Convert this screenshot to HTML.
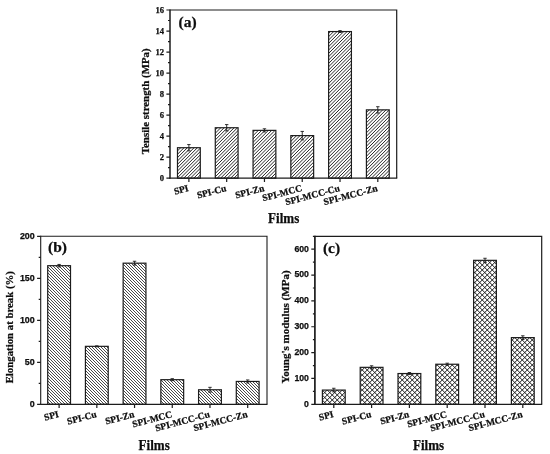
<!DOCTYPE html>
<html lang="en"><head><meta charset="utf-8"><title>Mechanical properties of SPI films</title>
<style>html,body{margin:0;padding:0;background:#fff}svg{display:block}text{fill:#0d0d0d;font-weight:bold;stroke:#0d0d0d;stroke-width:0.25px;paint-order:stroke}.se{font-family:'Liberation Serif', 'Times New Roman', serif}.sa{font-family:'Liberation Sans', Arial, sans-serif}</style></head><body>
<svg width="550" height="454" viewBox="0 0 550 454">
<rect width="550" height="454" fill="#fff"/>
<g id="chart-a">
<clipPath id="clip-a"><rect x="177.49" y="147.71" width="22.80" height="30.49"/><rect x="215.28" y="127.74" width="22.80" height="50.46"/><rect x="253.06" y="130.37" width="22.80" height="47.83"/><rect x="290.84" y="135.62" width="22.80" height="42.58"/><rect x="328.62" y="31.55" width="22.80" height="146.65"/><rect x="366.41" y="109.87" width="22.80" height="68.33"/></clipPath>
<path clip-path="url(#clip-a)" d="M2.80,178.20 L171.00,10.00 M6.15,178.20 L174.35,10.00 M9.50,178.20 L177.70,10.00 M12.85,178.20 L181.05,10.00 M16.20,178.20 L184.40,10.00 M19.55,178.20 L187.75,10.00 M22.90,178.20 L191.10,10.00 M26.25,178.20 L194.45,10.00 M29.60,178.20 L197.80,10.00 M32.95,178.20 L201.15,10.00 M36.30,178.20 L204.50,10.00 M39.65,178.20 L207.85,10.00 M43.00,178.20 L211.20,10.00 M46.35,178.20 L214.55,10.00 M49.70,178.20 L217.90,10.00 M53.05,178.20 L221.25,10.00 M56.40,178.20 L224.60,10.00 M59.75,178.20 L227.95,10.00 M63.10,178.20 L231.30,10.00 M66.45,178.20 L234.65,10.00 M69.80,178.20 L238.00,10.00 M73.15,178.20 L241.35,10.00 M76.50,178.20 L244.70,10.00 M79.85,178.20 L248.05,10.00 M83.20,178.20 L251.40,10.00 M86.55,178.20 L254.75,10.00 M89.90,178.20 L258.10,10.00 M93.25,178.20 L261.45,10.00 M96.60,178.20 L264.80,10.00 M99.95,178.20 L268.15,10.00 M103.30,178.20 L271.50,10.00 M106.65,178.20 L274.85,10.00 M110.00,178.20 L278.20,10.00 M113.35,178.20 L281.55,10.00 M116.70,178.20 L284.90,10.00 M120.05,178.20 L288.25,10.00 M123.40,178.20 L291.60,10.00 M126.75,178.20 L294.95,10.00 M130.10,178.20 L298.30,10.00 M133.45,178.20 L301.65,10.00 M136.80,178.20 L305.00,10.00 M140.15,178.20 L308.35,10.00 M143.50,178.20 L311.70,10.00 M146.85,178.20 L315.05,10.00 M150.20,178.20 L318.40,10.00 M153.55,178.20 L321.75,10.00 M156.90,178.20 L325.10,10.00 M160.25,178.20 L328.45,10.00 M163.60,178.20 L331.80,10.00 M166.95,178.20 L335.15,10.00 M170.30,178.20 L338.50,10.00 M173.65,178.20 L341.85,10.00 M177.00,178.20 L345.20,10.00 M180.35,178.20 L348.55,10.00 M183.70,178.20 L351.90,10.00 M187.05,178.20 L355.25,10.00 M190.40,178.20 L358.60,10.00 M193.75,178.20 L361.95,10.00 M197.10,178.20 L365.30,10.00 M200.45,178.20 L368.65,10.00 M203.80,178.20 L372.00,10.00 M207.15,178.20 L375.35,10.00 M210.50,178.20 L378.70,10.00 M213.85,178.20 L382.05,10.00 M217.20,178.20 L385.40,10.00 M220.55,178.20 L388.75,10.00 M223.90,178.20 L392.10,10.00 M227.25,178.20 L395.45,10.00 M230.60,178.20 L398.80,10.00 M233.95,178.20 L402.15,10.00 M237.30,178.20 L405.50,10.00 M240.65,178.20 L408.85,10.00 M244.00,178.20 L412.20,10.00 M247.35,178.20 L415.55,10.00 M250.70,178.20 L418.90,10.00 M254.05,178.20 L422.25,10.00 M257.40,178.20 L425.60,10.00 M260.75,178.20 L428.95,10.00 M264.10,178.20 L432.30,10.00 M267.45,178.20 L435.65,10.00 M270.80,178.20 L439.00,10.00 M274.15,178.20 L442.35,10.00 M277.50,178.20 L445.70,10.00 M280.85,178.20 L449.05,10.00 M284.20,178.20 L452.40,10.00 M287.55,178.20 L455.75,10.00 M290.90,178.20 L459.10,10.00 M294.25,178.20 L462.45,10.00 M297.60,178.20 L465.80,10.00 M300.95,178.20 L469.15,10.00 M304.30,178.20 L472.50,10.00 M307.65,178.20 L475.85,10.00 M311.00,178.20 L479.20,10.00 M314.35,178.20 L482.55,10.00 M317.70,178.20 L485.90,10.00 M321.05,178.20 L489.25,10.00 M324.40,178.20 L492.60,10.00 M327.75,178.20 L495.95,10.00 M331.10,178.20 L499.30,10.00 M334.45,178.20 L502.65,10.00 M337.80,178.20 L506.00,10.00 M341.15,178.20 L509.35,10.00 M344.50,178.20 L512.70,10.00 M347.85,178.20 L516.05,10.00 M351.20,178.20 L519.40,10.00 M354.55,178.20 L522.75,10.00 M357.90,178.20 L526.10,10.00 M361.25,178.20 L529.45,10.00 M364.60,178.20 L532.80,10.00 M367.95,178.20 L536.15,10.00 M371.30,178.20 L539.50,10.00 M374.65,178.20 L542.85,10.00 M378.00,178.20 L546.20,10.00 M381.35,178.20 L549.55,10.00 M384.70,178.20 L552.90,10.00 M388.05,178.20 L556.25,10.00 M391.40,178.20 L559.60,10.00 M394.75,178.20 L562.95,10.00" stroke="#1c1c1c" stroke-width="0.95" fill="none"/>
<rect x="177.49" y="147.71" width="22.80" height="30.49" fill="none" stroke="#1c1c1c" stroke-width="1.2"/>
<rect x="215.28" y="127.74" width="22.80" height="50.46" fill="none" stroke="#1c1c1c" stroke-width="1.2"/>
<rect x="253.06" y="130.37" width="22.80" height="47.83" fill="none" stroke="#1c1c1c" stroke-width="1.2"/>
<rect x="290.84" y="135.62" width="22.80" height="42.58" fill="none" stroke="#1c1c1c" stroke-width="1.2"/>
<rect x="328.62" y="31.55" width="22.80" height="146.65" fill="none" stroke="#1c1c1c" stroke-width="1.2"/>
<rect x="366.41" y="109.87" width="22.80" height="68.33" fill="none" stroke="#1c1c1c" stroke-width="1.2"/>
<path d="M188.89,144.56 V150.87 M187.19,144.56 H190.59 M187.19,150.87 H190.59 M226.68,124.59 V130.89 M224.98,124.59 H228.38 M224.98,130.89 H228.38 M264.46,128.79 V131.94 M262.76,128.79 H266.16 M262.76,131.94 H266.16 M302.24,131.42 V139.83 M300.54,131.42 H303.94 M300.54,139.83 H303.94 M340.02,30.60 V32.50 M338.32,30.60 H341.72 M338.32,32.50 H341.72 M377.81,106.71 V113.02 M376.11,106.71 H379.51 M376.11,113.02 H379.51" stroke="#1c1c1c" stroke-width="0.9" fill="none"/>
<path d="M170.00,10.00 H396.70 V178.20" stroke="#1c1c1c" stroke-width="1.20" fill="none"/>
<path d="M170.00,9.50 V178.70" stroke="#1c1c1c" stroke-width="1.50" fill="none"/>
<path d="M169.50,178.20 H397.20" stroke="#1c1c1c" stroke-width="1.30" fill="none"/>
<path d="M170.00,178.20 H166.40 M170.00,167.69 H168.00 M170.00,157.17 H166.40 M170.00,146.66 H168.00 M170.00,136.15 H166.40 M170.00,125.64 H168.00 M170.00,115.12 H166.40 M170.00,104.61 H168.00 M170.00,94.10 H166.40 M170.00,83.59 H168.00 M170.00,73.07 H166.40 M170.00,62.56 H168.00 M170.00,52.05 H166.40 M170.00,41.54 H168.00 M170.00,31.03 H166.40 M170.00,20.51 H168.00 M170.00,10.00 H166.40" stroke="#1c1c1c" stroke-width="1.2" fill="none"/>
<text class="se" x="164.00" y="181.10" font-size="8.6" text-anchor="end">0</text>
<text class="se" x="164.00" y="160.07" font-size="8.6" text-anchor="end">2</text>
<text class="se" x="164.00" y="139.05" font-size="8.6" text-anchor="end">4</text>
<text class="se" x="164.00" y="118.03" font-size="8.6" text-anchor="end">6</text>
<text class="se" x="164.00" y="97.00" font-size="8.6" text-anchor="end">8</text>
<text class="se" x="164.00" y="75.97" font-size="8.6" text-anchor="end">10</text>
<text class="se" x="164.00" y="54.95" font-size="8.6" text-anchor="end">12</text>
<text class="se" x="164.00" y="33.93" font-size="8.6" text-anchor="end">14</text>
<text class="se" x="164.00" y="12.90" font-size="8.6" text-anchor="end">16</text>
<path d="M188.89,178.20 V181.90 M226.68,178.20 V181.90 M264.46,178.20 V181.90 M302.24,178.20 V181.90 M340.02,178.20 V181.90 M377.81,178.20 V181.90" stroke="#1c1c1c" stroke-width="1.2" fill="none"/>
<text class="se" font-size="9.5" text-anchor="end" transform="translate(189.19,190.80) rotate(-15)">SPI</text>
<text class="se" font-size="9.5" text-anchor="end" transform="translate(226.98,190.80) rotate(-15)">SPI-Cu</text>
<text class="se" font-size="9.5" text-anchor="end" transform="translate(264.76,190.80) rotate(-15)">SPI-Zn</text>
<text class="se" font-size="9.5" text-anchor="end" transform="translate(302.54,190.80) rotate(-15)">SPI-MCC</text>
<text class="se" font-size="9.5" text-anchor="end" transform="translate(340.32,190.80) rotate(-15)">SPI-MCC-Cu</text>
<text class="se" font-size="9.5" text-anchor="end" transform="translate(378.11,190.80) rotate(-15)">SPI-MCC-Zn</text>
<text class="se" x="283.65" y="222.70" font-size="14.2" text-anchor="middle" textLength="31.2" lengthAdjust="spacingAndGlyphs">Films</text>
<text class="se" font-size="10.9" text-anchor="middle" transform="translate(149.40,101.30) rotate(-90)">Tensile strength (MPa)</text>
<text class="se" x="178.60" y="26.80" font-size="15.5">(a)</text>
</g>
<g id="chart-b">
<clipPath id="clip-b"><rect x="47.71" y="265.70" width="22.80" height="138.60"/><rect x="85.42" y="346.34" width="22.80" height="57.96"/><rect x="123.14" y="263.18" width="22.80" height="141.12"/><rect x="160.86" y="379.69" width="22.80" height="24.61"/><rect x="198.58" y="389.77" width="22.80" height="14.53"/><rect x="236.29" y="381.45" width="22.80" height="22.85"/></clipPath>
<path clip-path="url(#clip-b)" d="M-126.70,236.30 L41.30,404.30 M-123.70,236.30 L44.30,404.30 M-120.70,236.30 L47.30,404.30 M-117.70,236.30 L50.30,404.30 M-114.70,236.30 L53.30,404.30 M-111.70,236.30 L56.30,404.30 M-108.70,236.30 L59.30,404.30 M-105.70,236.30 L62.30,404.30 M-102.70,236.30 L65.30,404.30 M-99.70,236.30 L68.30,404.30 M-96.70,236.30 L71.30,404.30 M-93.70,236.30 L74.30,404.30 M-90.70,236.30 L77.30,404.30 M-87.70,236.30 L80.30,404.30 M-84.70,236.30 L83.30,404.30 M-81.70,236.30 L86.30,404.30 M-78.70,236.30 L89.30,404.30 M-75.70,236.30 L92.30,404.30 M-72.70,236.30 L95.30,404.30 M-69.70,236.30 L98.30,404.30 M-66.70,236.30 L101.30,404.30 M-63.70,236.30 L104.30,404.30 M-60.70,236.30 L107.30,404.30 M-57.70,236.30 L110.30,404.30 M-54.70,236.30 L113.30,404.30 M-51.70,236.30 L116.30,404.30 M-48.70,236.30 L119.30,404.30 M-45.70,236.30 L122.30,404.30 M-42.70,236.30 L125.30,404.30 M-39.70,236.30 L128.30,404.30 M-36.70,236.30 L131.30,404.30 M-33.70,236.30 L134.30,404.30 M-30.70,236.30 L137.30,404.30 M-27.70,236.30 L140.30,404.30 M-24.70,236.30 L143.30,404.30 M-21.70,236.30 L146.30,404.30 M-18.70,236.30 L149.30,404.30 M-15.70,236.30 L152.30,404.30 M-12.70,236.30 L155.30,404.30 M-9.70,236.30 L158.30,404.30 M-6.70,236.30 L161.30,404.30 M-3.70,236.30 L164.30,404.30 M-0.70,236.30 L167.30,404.30 M2.30,236.30 L170.30,404.30 M5.30,236.30 L173.30,404.30 M8.30,236.30 L176.30,404.30 M11.30,236.30 L179.30,404.30 M14.30,236.30 L182.30,404.30 M17.30,236.30 L185.30,404.30 M20.30,236.30 L188.30,404.30 M23.30,236.30 L191.30,404.30 M26.30,236.30 L194.30,404.30 M29.30,236.30 L197.30,404.30 M32.30,236.30 L200.30,404.30 M35.30,236.30 L203.30,404.30 M38.30,236.30 L206.30,404.30 M41.30,236.30 L209.30,404.30 M44.30,236.30 L212.30,404.30 M47.30,236.30 L215.30,404.30 M50.30,236.30 L218.30,404.30 M53.30,236.30 L221.30,404.30 M56.30,236.30 L224.30,404.30 M59.30,236.30 L227.30,404.30 M62.30,236.30 L230.30,404.30 M65.30,236.30 L233.30,404.30 M68.30,236.30 L236.30,404.30 M71.30,236.30 L239.30,404.30 M74.30,236.30 L242.30,404.30 M77.30,236.30 L245.30,404.30 M80.30,236.30 L248.30,404.30 M83.30,236.30 L251.30,404.30 M86.30,236.30 L254.30,404.30 M89.30,236.30 L257.30,404.30 M92.30,236.30 L260.30,404.30 M95.30,236.30 L263.30,404.30 M98.30,236.30 L266.30,404.30 M101.30,236.30 L269.30,404.30 M104.30,236.30 L272.30,404.30 M107.30,236.30 L275.30,404.30 M110.30,236.30 L278.30,404.30 M113.30,236.30 L281.30,404.30 M116.30,236.30 L284.30,404.30 M119.30,236.30 L287.30,404.30 M122.30,236.30 L290.30,404.30 M125.30,236.30 L293.30,404.30 M128.30,236.30 L296.30,404.30 M131.30,236.30 L299.30,404.30 M134.30,236.30 L302.30,404.30 M137.30,236.30 L305.30,404.30 M140.30,236.30 L308.30,404.30 M143.30,236.30 L311.30,404.30 M146.30,236.30 L314.30,404.30 M149.30,236.30 L317.30,404.30 M152.30,236.30 L320.30,404.30 M155.30,236.30 L323.30,404.30 M158.30,236.30 L326.30,404.30 M161.30,236.30 L329.30,404.30 M164.30,236.30 L332.30,404.30 M167.30,236.30 L335.30,404.30 M170.30,236.30 L338.30,404.30 M173.30,236.30 L341.30,404.30 M176.30,236.30 L344.30,404.30 M179.30,236.30 L347.30,404.30 M182.30,236.30 L350.30,404.30 M185.30,236.30 L353.30,404.30 M188.30,236.30 L356.30,404.30 M191.30,236.30 L359.30,404.30 M194.30,236.30 L362.30,404.30 M197.30,236.30 L365.30,404.30 M200.30,236.30 L368.30,404.30 M203.30,236.30 L371.30,404.30 M206.30,236.30 L374.30,404.30 M209.30,236.30 L377.30,404.30 M212.30,236.30 L380.30,404.30 M215.30,236.30 L383.30,404.30 M218.30,236.30 L386.30,404.30 M221.30,236.30 L389.30,404.30 M224.30,236.30 L392.30,404.30 M227.30,236.30 L395.30,404.30 M230.30,236.30 L398.30,404.30 M233.30,236.30 L401.30,404.30 M236.30,236.30 L404.30,404.30 M239.30,236.30 L407.30,404.30 M242.30,236.30 L410.30,404.30 M245.30,236.30 L413.30,404.30 M248.30,236.30 L416.30,404.30 M251.30,236.30 L419.30,404.30 M254.30,236.30 L422.30,404.30 M257.30,236.30 L425.30,404.30 M260.30,236.30 L428.30,404.30 M263.30,236.30 L431.30,404.30 M266.30,236.30 L434.30,404.30" stroke="#1c1c1c" stroke-width="0.8" fill="none"/>
<rect x="47.71" y="265.70" width="22.80" height="138.60" fill="none" stroke="#1c1c1c" stroke-width="1.2"/>
<rect x="85.42" y="346.34" width="22.80" height="57.96" fill="none" stroke="#1c1c1c" stroke-width="1.2"/>
<rect x="123.14" y="263.18" width="22.80" height="141.12" fill="none" stroke="#1c1c1c" stroke-width="1.2"/>
<rect x="160.86" y="379.69" width="22.80" height="24.61" fill="none" stroke="#1c1c1c" stroke-width="1.2"/>
<rect x="198.58" y="389.77" width="22.80" height="14.53" fill="none" stroke="#1c1c1c" stroke-width="1.2"/>
<rect x="236.29" y="381.45" width="22.80" height="22.85" fill="none" stroke="#1c1c1c" stroke-width="1.2"/>
<path d="M59.11,264.44 V266.96 M57.41,264.44 H60.81 M57.41,266.96 H60.81 M96.83,345.84 V346.84 M95.12,345.84 H98.53 M95.12,346.84 H98.53 M134.54,261.25 V265.11 M132.84,261.25 H136.24 M132.84,265.11 H136.24 M172.26,378.68 V380.70 M170.56,378.68 H173.96 M170.56,380.70 H173.96 M209.98,387.33 V392.20 M208.28,387.33 H211.68 M208.28,392.20 H211.68 M247.69,379.94 V382.96 M245.99,379.94 H249.39 M245.99,382.96 H249.39" stroke="#1c1c1c" stroke-width="0.9" fill="none"/>
<path d="M40.70,236.30 H267.00 V404.30" stroke="#1c1c1c" stroke-width="1.10" fill="none"/>
<path d="M40.70,235.80 V404.80" stroke="#1c1c1c" stroke-width="1.10" fill="none"/>
<path d="M40.20,404.30 H267.50" stroke="#1c1c1c" stroke-width="1.30" fill="none"/>
<path d="M40.70,404.30 H37.10 M40.70,383.30 H38.70 M40.70,362.30 H37.10 M40.70,341.30 H38.70 M40.70,320.30 H37.10 M40.70,299.30 H38.70 M40.70,278.30 H37.10 M40.70,257.30 H38.70 M40.70,236.30 H37.10" stroke="#1c1c1c" stroke-width="1.2" fill="none"/>
<text class="sa" x="34.70" y="406.60" font-size="8.9" text-anchor="end">0</text>
<text class="sa" x="34.70" y="364.60" font-size="8.9" text-anchor="end">50</text>
<text class="sa" x="34.70" y="322.60" font-size="8.9" text-anchor="end">100</text>
<text class="sa" x="34.70" y="280.60" font-size="8.9" text-anchor="end">150</text>
<text class="sa" x="34.70" y="238.60" font-size="8.9" text-anchor="end">200</text>
<path d="M59.11,404.30 V408.00 M96.83,404.30 V408.00 M134.54,404.30 V408.00 M172.26,404.30 V408.00 M209.98,404.30 V408.00 M247.69,404.30 V408.00" stroke="#1c1c1c" stroke-width="1.2" fill="none"/>
<text class="se" font-size="9.5" text-anchor="end" transform="translate(59.41,416.90) rotate(-15)">SPI</text>
<text class="se" font-size="9.5" text-anchor="end" transform="translate(97.12,416.90) rotate(-15)">SPI-Cu</text>
<text class="se" font-size="9.5" text-anchor="end" transform="translate(134.84,416.90) rotate(-15)">SPI-Zn</text>
<text class="se" font-size="9.5" text-anchor="end" transform="translate(172.56,416.90) rotate(-15)">SPI-MCC</text>
<text class="se" font-size="9.5" text-anchor="end" transform="translate(210.28,416.90) rotate(-15)">SPI-MCC-Cu</text>
<text class="se" font-size="9.5" text-anchor="end" transform="translate(247.99,416.90) rotate(-15)">SPI-MCC-Zn</text>
<text class="se" x="154.15" y="450.00" font-size="14.2" text-anchor="middle" textLength="31.2" lengthAdjust="spacingAndGlyphs">Films</text>
<text class="se" font-size="10.8" text-anchor="middle" transform="translate(13.00,327.20) rotate(-90)">Elongation at break (%)</text>
<text class="se" x="48.00" y="252.30" font-size="15.5">(b)</text>
</g>
<g id="chart-c">
<clipPath id="clip-c"><rect x="322.40" y="390.08" width="22.80" height="14.22"/><rect x="360.20" y="367.34" width="22.80" height="36.96"/><rect x="398.00" y="373.54" width="22.80" height="30.76"/><rect x="435.80" y="364.24" width="22.80" height="40.06"/><rect x="473.60" y="260.34" width="22.80" height="143.96"/><rect x="511.40" y="337.62" width="22.80" height="66.68"/></clipPath>
<path clip-path="url(#clip-c)" d="M147.95,404.30 L315.95,236.30 M152.95,404.30 L320.95,236.30 M157.95,404.30 L325.95,236.30 M162.95,404.30 L330.95,236.30 M167.95,404.30 L335.95,236.30 M172.95,404.30 L340.95,236.30 M177.95,404.30 L345.95,236.30 M182.95,404.30 L350.95,236.30 M187.95,404.30 L355.95,236.30 M192.95,404.30 L360.95,236.30 M197.95,404.30 L365.95,236.30 M202.95,404.30 L370.95,236.30 M207.95,404.30 L375.95,236.30 M212.95,404.30 L380.95,236.30 M217.95,404.30 L385.95,236.30 M222.95,404.30 L390.95,236.30 M227.95,404.30 L395.95,236.30 M232.95,404.30 L400.95,236.30 M237.95,404.30 L405.95,236.30 M242.95,404.30 L410.95,236.30 M247.95,404.30 L415.95,236.30 M252.95,404.30 L420.95,236.30 M257.95,404.30 L425.95,236.30 M262.95,404.30 L430.95,236.30 M267.95,404.30 L435.95,236.30 M272.95,404.30 L440.95,236.30 M277.95,404.30 L445.95,236.30 M282.95,404.30 L450.95,236.30 M287.95,404.30 L455.95,236.30 M292.95,404.30 L460.95,236.30 M297.95,404.30 L465.95,236.30 M302.95,404.30 L470.95,236.30 M307.95,404.30 L475.95,236.30 M312.95,404.30 L480.95,236.30 M317.95,404.30 L485.95,236.30 M322.95,404.30 L490.95,236.30 M327.95,404.30 L495.95,236.30 M332.95,404.30 L500.95,236.30 M337.95,404.30 L505.95,236.30 M342.95,404.30 L510.95,236.30 M347.95,404.30 L515.95,236.30 M352.95,404.30 L520.95,236.30 M357.95,404.30 L525.95,236.30 M362.95,404.30 L530.95,236.30 M367.95,404.30 L535.95,236.30 M372.95,404.30 L540.95,236.30 M377.95,404.30 L545.95,236.30 M382.95,404.30 L550.95,236.30 M387.95,404.30 L555.95,236.30 M392.95,404.30 L560.95,236.30 M397.95,404.30 L565.95,236.30 M402.95,404.30 L570.95,236.30 M407.95,404.30 L575.95,236.30 M412.95,404.30 L580.95,236.30 M417.95,404.30 L585.95,236.30 M422.95,404.30 L590.95,236.30 M427.95,404.30 L595.95,236.30 M432.95,404.30 L600.95,236.30 M437.95,404.30 L605.95,236.30 M442.95,404.30 L610.95,236.30 M447.95,404.30 L615.95,236.30 M452.95,404.30 L620.95,236.30 M457.95,404.30 L625.95,236.30 M462.95,404.30 L630.95,236.30 M467.95,404.30 L635.95,236.30 M472.95,404.30 L640.95,236.30 M477.95,404.30 L645.95,236.30 M482.95,404.30 L650.95,236.30 M487.95,404.30 L655.95,236.30 M492.95,404.30 L660.95,236.30 M497.95,404.30 L665.95,236.30 M502.95,404.30 L670.95,236.30 M507.95,404.30 L675.95,236.30 M512.95,404.30 L680.95,236.30 M517.95,404.30 L685.95,236.30 M522.95,404.30 L690.95,236.30 M527.95,404.30 L695.95,236.30 M532.95,404.30 L700.95,236.30 M537.95,404.30 L705.95,236.30 M148.55,236.30 L316.55,404.30 M153.55,236.30 L321.55,404.30 M158.55,236.30 L326.55,404.30 M163.55,236.30 L331.55,404.30 M168.55,236.30 L336.55,404.30 M173.55,236.30 L341.55,404.30 M178.55,236.30 L346.55,404.30 M183.55,236.30 L351.55,404.30 M188.55,236.30 L356.55,404.30 M193.55,236.30 L361.55,404.30 M198.55,236.30 L366.55,404.30 M203.55,236.30 L371.55,404.30 M208.55,236.30 L376.55,404.30 M213.55,236.30 L381.55,404.30 M218.55,236.30 L386.55,404.30 M223.55,236.30 L391.55,404.30 M228.55,236.30 L396.55,404.30 M233.55,236.30 L401.55,404.30 M238.55,236.30 L406.55,404.30 M243.55,236.30 L411.55,404.30 M248.55,236.30 L416.55,404.30 M253.55,236.30 L421.55,404.30 M258.55,236.30 L426.55,404.30 M263.55,236.30 L431.55,404.30 M268.55,236.30 L436.55,404.30 M273.55,236.30 L441.55,404.30 M278.55,236.30 L446.55,404.30 M283.55,236.30 L451.55,404.30 M288.55,236.30 L456.55,404.30 M293.55,236.30 L461.55,404.30 M298.55,236.30 L466.55,404.30 M303.55,236.30 L471.55,404.30 M308.55,236.30 L476.55,404.30 M313.55,236.30 L481.55,404.30 M318.55,236.30 L486.55,404.30 M323.55,236.30 L491.55,404.30 M328.55,236.30 L496.55,404.30 M333.55,236.30 L501.55,404.30 M338.55,236.30 L506.55,404.30 M343.55,236.30 L511.55,404.30 M348.55,236.30 L516.55,404.30 M353.55,236.30 L521.55,404.30 M358.55,236.30 L526.55,404.30 M363.55,236.30 L531.55,404.30 M368.55,236.30 L536.55,404.30 M373.55,236.30 L541.55,404.30 M378.55,236.30 L546.55,404.30 M383.55,236.30 L551.55,404.30 M388.55,236.30 L556.55,404.30 M393.55,236.30 L561.55,404.30 M398.55,236.30 L566.55,404.30 M403.55,236.30 L571.55,404.30 M408.55,236.30 L576.55,404.30 M413.55,236.30 L581.55,404.30 M418.55,236.30 L586.55,404.30 M423.55,236.30 L591.55,404.30 M428.55,236.30 L596.55,404.30 M433.55,236.30 L601.55,404.30 M438.55,236.30 L606.55,404.30 M443.55,236.30 L611.55,404.30 M448.55,236.30 L616.55,404.30 M453.55,236.30 L621.55,404.30 M458.55,236.30 L626.55,404.30 M463.55,236.30 L631.55,404.30 M468.55,236.30 L636.55,404.30 M473.55,236.30 L641.55,404.30 M478.55,236.30 L646.55,404.30 M483.55,236.30 L651.55,404.30 M488.55,236.30 L656.55,404.30 M493.55,236.30 L661.55,404.30 M498.55,236.30 L666.55,404.30 M503.55,236.30 L671.55,404.30 M508.55,236.30 L676.55,404.30 M513.55,236.30 L681.55,404.30 M518.55,236.30 L686.55,404.30 M523.55,236.30 L691.55,404.30 M528.55,236.30 L696.55,404.30 M533.55,236.30 L701.55,404.30 M538.55,236.30 L706.55,404.30" stroke="#1c1c1c" stroke-width="1" fill="none"/>
<rect x="322.40" y="390.08" width="22.80" height="14.22" fill="none" stroke="#1c1c1c" stroke-width="1.2"/>
<rect x="360.20" y="367.34" width="22.80" height="36.96" fill="none" stroke="#1c1c1c" stroke-width="1.2"/>
<rect x="398.00" y="373.54" width="22.80" height="30.76" fill="none" stroke="#1c1c1c" stroke-width="1.2"/>
<rect x="435.80" y="364.24" width="22.80" height="40.06" fill="none" stroke="#1c1c1c" stroke-width="1.2"/>
<rect x="473.60" y="260.34" width="22.80" height="143.96" fill="none" stroke="#1c1c1c" stroke-width="1.2"/>
<rect x="511.40" y="337.62" width="22.80" height="66.68" fill="none" stroke="#1c1c1c" stroke-width="1.2"/>
<path d="M333.80,388.28 V391.89 M332.10,388.28 H335.50 M332.10,391.89 H335.50 M371.60,365.79 V368.89 M369.90,365.79 H373.30 M369.90,368.89 H373.30 M409.40,372.51 V374.58 M407.70,372.51 H411.10 M407.70,374.58 H411.10 M447.20,363.20 V365.27 M445.50,363.20 H448.90 M445.50,365.27 H448.90 M485.00,258.27 V262.40 M483.30,258.27 H486.70 M483.30,262.40 H486.70 M522.80,335.81 V339.43 M521.10,335.81 H524.50 M521.10,339.43 H524.50" stroke="#1c1c1c" stroke-width="0.9" fill="none"/>
<path d="M314.90,236.30 H541.70 V404.30" stroke="#1c1c1c" stroke-width="1.20" fill="none"/>
<path d="M314.90,235.80 V404.80" stroke="#1c1c1c" stroke-width="1.70" fill="none"/>
<path d="M314.40,404.30 H542.20" stroke="#1c1c1c" stroke-width="1.30" fill="none"/>
<path d="M314.90,404.30 H311.30 M314.90,391.38 H312.90 M314.90,378.45 H311.30 M314.90,365.53 H312.90 M314.90,352.61 H311.30 M314.90,339.68 H312.90 M314.90,326.76 H311.30 M314.90,313.84 H312.90 M314.90,300.92 H311.30 M314.90,287.99 H312.90 M314.90,275.07 H311.30 M314.90,262.15 H312.90 M314.90,249.22 H311.30 M314.90,236.30 H312.90" stroke="#1c1c1c" stroke-width="1.2" fill="none"/>
<text class="sa" x="308.90" y="406.60" font-size="8.7" text-anchor="end">0</text>
<text class="sa" x="308.90" y="380.75" font-size="8.7" text-anchor="end">100</text>
<text class="sa" x="308.90" y="354.91" font-size="8.7" text-anchor="end">200</text>
<text class="sa" x="308.90" y="329.06" font-size="8.7" text-anchor="end">300</text>
<text class="sa" x="308.90" y="303.22" font-size="8.7" text-anchor="end">400</text>
<text class="sa" x="308.90" y="277.37" font-size="8.7" text-anchor="end">500</text>
<text class="sa" x="308.90" y="251.52" font-size="8.7" text-anchor="end">600</text>
<path d="M333.80,404.30 V408.00 M371.60,404.30 V408.00 M409.40,404.30 V408.00 M447.20,404.30 V408.00 M485.00,404.30 V408.00 M522.80,404.30 V408.00" stroke="#1c1c1c" stroke-width="1.2" fill="none"/>
<text class="se" font-size="9.5" text-anchor="end" transform="translate(334.10,416.90) rotate(-15)">SPI</text>
<text class="se" font-size="9.5" text-anchor="end" transform="translate(371.90,416.90) rotate(-15)">SPI-Cu</text>
<text class="se" font-size="9.5" text-anchor="end" transform="translate(409.70,416.90) rotate(-15)">SPI-Zn</text>
<text class="se" font-size="9.5" text-anchor="end" transform="translate(447.50,416.90) rotate(-15)">SPI-MCC</text>
<text class="se" font-size="9.5" text-anchor="end" transform="translate(485.30,416.90) rotate(-15)">SPI-MCC-Cu</text>
<text class="se" font-size="9.5" text-anchor="end" transform="translate(523.10,416.90) rotate(-15)">SPI-MCC-Zn</text>
<text class="se" x="428.60" y="449.60" font-size="14.2" text-anchor="middle" textLength="31.2" lengthAdjust="spacingAndGlyphs">Films</text>
<text class="se" font-size="11" text-anchor="middle" transform="translate(288.50,327.00) rotate(-90)">Young's modulus (MPa)</text>
<text class="se" x="322.90" y="252.80" font-size="15.5">(c)</text>
</g>
</svg></body></html>
